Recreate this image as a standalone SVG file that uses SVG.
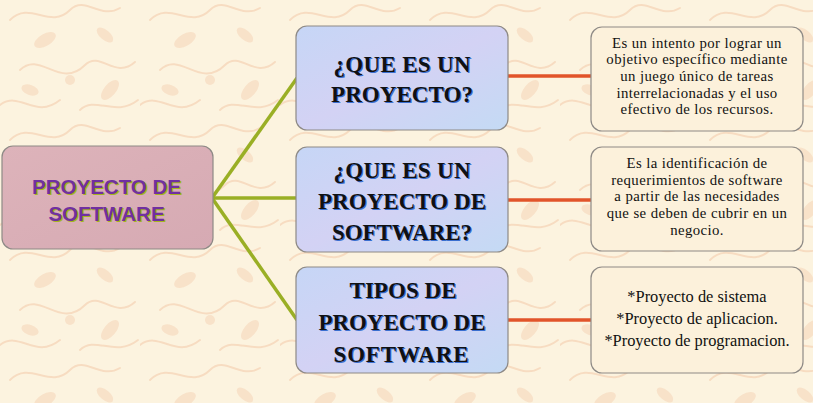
<svg xmlns="http://www.w3.org/2000/svg" width="813" height="403" viewBox="0 0 813 403">
<defs>
<pattern id="floral" x="0" y="0" width="140" height="120" patternUnits="userSpaceOnUse">
<rect width="140" height="120" fill="#FCF3DF"/>
<g fill="none" stroke="#F4CDAE" stroke-width="2" stroke-linecap="round" opacity="0.6">
<path d="M10 20 C30 0 50 30 70 10 C85 -5 100 20 120 8"/>
<path d="M20 70 C40 50 60 90 85 65 C100 50 115 80 135 62"/>
<path d="M0 105 C20 90 35 120 60 100"/>
<path d="M80 110 C95 95 115 118 138 100"/>
</g>
<g fill="#F4CDAE" opacity="0.45">
<ellipse cx="45" cy="40" rx="12" ry="6" transform="rotate(-30 45 40)"/>
<ellipse cx="105" cy="35" rx="10" ry="5" transform="rotate(40 105 35)"/>
<ellipse cx="30" cy="90" rx="9" ry="5" transform="rotate(20 30 90)"/>
<ellipse cx="110" cy="90" rx="12" ry="6" transform="rotate(-50 110 90)"/>
<circle cx="70" cy="80" r="5"/>
</g>
</pattern>
<linearGradient id="blueFill" x1="0" y1="0" x2="1" y2="1">
<stop offset="0" stop-color="#C6D6F6"/>
<stop offset="0.5" stop-color="#D3D2F4"/>
<stop offset="1" stop-color="#C4DAF4"/>
</linearGradient>
<linearGradient id="pinkFill" x1="0" y1="0" x2="1" y2="1">
<stop offset="0" stop-color="#DDB3BA"/>
<stop offset="1" stop-color="#D6AAB3"/>
</linearGradient>
</defs>
<style>
.box{stroke:#8E8A86;stroke-width:1.2}
.mid{fill:url(#blueFill)}
.det{fill:#FCF1DB}
.ttl{font-family:"Liberation Serif",serif;font-weight:bold;font-size:23px;text-anchor:middle}
.ttl-s{fill:#3A6FD0}
.ttl-f{fill:#111111}
.body{font-family:"Liberation Serif",serif;font-size:14.8px;letter-spacing:0.4px;fill:#111111;text-anchor:middle}
.list{font-family:"Liberation Serif",serif;font-size:16.4px;fill:#111111;text-anchor:middle}
.root{font-family:"Liberation Sans",sans-serif;font-weight:bold;font-size:20.5px;text-anchor:middle}
.green{stroke:#9AAF25;stroke-width:3.5;fill:none}
.orange{stroke:#E2542A;stroke-width:3.5;fill:none}
</style>
<rect width="813" height="403" fill="url(#floral)"/>

<g id="connectors">
<line class="green" x1="212" y1="198" x2="297" y2="78"/>
<line class="green" x1="212" y1="198" x2="297" y2="198"/>
<line class="green" x1="212" y1="198" x2="297" y2="320"/>
<line class="orange" x1="508" y1="76" x2="591" y2="76"/>
<line class="orange" x1="508" y1="200" x2="591" y2="200"/>
<line class="orange" x1="508" y1="320" x2="591" y2="320"/>
</g>

<g id="root">
<rect class="box" x="2" y="146" width="211" height="103" rx="11" fill="url(#pinkFill)"/>
<text class="root" fill="#A5B520"><tspan x="108" y="195">PROYECTO DE</tspan><tspan x="108" y="222">SOFTWARE</tspan></text>
<text class="root" fill="#7030A0"><tspan x="106.5" y="193.5">PROYECTO DE</tspan><tspan x="106.5" y="220.5">SOFTWARE</tspan></text>
</g>

<g id="q1">
<rect class="box mid" x="296" y="26" width="212" height="104" rx="11"/>
<text class="ttl ttl-s"><tspan x="403" y="73" textLength="137">¿QUE ES UN</tspan><tspan x="403" y="103" textLength="142">PROYECTO?</tspan></text>
<text class="ttl ttl-f"><tspan x="402" y="72" textLength="137">¿QUE ES UN</tspan><tspan x="402" y="102" textLength="142">PROYECTO?</tspan></text>
</g>

<g id="q2">
<rect class="box mid" x="296" y="147" width="212" height="105" rx="11"/>
<text class="ttl ttl-s"><tspan x="403" y="179" textLength="137">¿QUE ES UN</tspan><tspan x="403" y="210" textLength="168">PROYECTO DE</tspan><tspan x="403" y="241" textLength="140">SOFTWARE?</tspan></text>
<text class="ttl ttl-f"><tspan x="402" y="178" textLength="137">¿QUE ES UN</tspan><tspan x="402" y="209" textLength="168">PROYECTO DE</tspan><tspan x="402" y="240" textLength="140">SOFTWARE?</tspan></text>
</g>

<g id="q3">
<rect class="box mid" x="296" y="267" width="212" height="106" rx="11"/>
<text class="ttl ttl-s"><tspan x="404" y="299" textLength="107">TIPOS DE</tspan><tspan x="403" y="331" textLength="167">PROYECTO DE</tspan><tspan x="402" y="363" textLength="135">SOFTWARE</tspan></text>
<text class="ttl ttl-f"><tspan x="403" y="298" textLength="107">TIPOS DE</tspan><tspan x="402" y="330" textLength="167">PROYECTO DE</tspan><tspan x="401" y="362" textLength="135">SOFTWARE</tspan></text>
</g>

<g id="a1">
<rect class="box det" x="591" y="27" width="212" height="104" rx="11"/>
<text class="body"><tspan x="697" y="47.5">Es un intento por lograr un</tspan><tspan x="697" y="64.2">objetivo específico mediante</tspan><tspan x="697" y="80.9">un juego único de tareas</tspan><tspan x="697" y="97.6">interrelacionadas  y el uso</tspan><tspan x="697" y="114.3">efectivo de los recursos.</tspan></text>
</g>

<g id="a2">
<rect class="box det" x="591" y="147" width="212" height="104" rx="11"/>
<text class="body"><tspan x="697" y="168">Es la identificación  de</tspan><tspan x="697" y="184.7">requerimientos de software</tspan><tspan x="697" y="201.4">a partir de las necesidades</tspan><tspan x="697" y="218.1">que se deben de cubrir en un</tspan><tspan x="697" y="234.8">negocio.</tspan></text>
</g>

<g id="a3">
<rect class="box det" x="591" y="267" width="212" height="106" rx="11"/>
<text class="list"><tspan x="697" y="302">*Proyecto de sistema</tspan><tspan x="697" y="324">*Proyecto de aplicacion.</tspan><tspan x="697" y="346">*Proyecto de programacion.</tspan></text>
</g>
</svg>
